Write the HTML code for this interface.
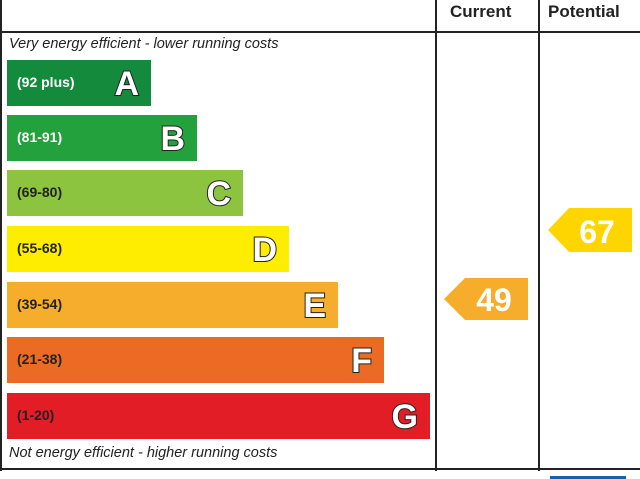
<!DOCTYPE html><html><head><style>
body{margin:0;width:640px;height:479px;overflow:hidden;background:#fff;font-family:"Liberation Sans",sans-serif;position:relative}
.a{position:absolute}
.bar{position:absolute;left:7px;height:46px}
.bar .r{position:absolute;left:10px;top:14px;font-size:14px;font-weight:bold;color:#fff}
.bar .l{position:absolute;right:12px;top:5px;font-size:34px;font-weight:bold;color:#fff;-webkit-text-stroke:2px #222;paint-order:stroke fill}
.ln{position:absolute;background:#222}
.it{position:absolute;left:9px;font-style:italic;font-size:14.5px;color:#222}
</style></head><body>
<div class="ln" style="left:0;top:0;width:2px;height:471px"></div>
<div class="ln" style="left:435px;top:0;width:2px;height:471px"></div>
<div class="ln" style="left:538px;top:0;width:2px;height:471px"></div>
<div class="ln" style="left:0;top:31px;width:640px;height:2px"></div>
<div class="ln" style="left:0;top:468px;width:640px;height:2px"></div>
<div class="a" style="left:450px;top:2px;font-size:17px;font-weight:bold;color:#222">Current</div>
<div class="a" style="left:548px;top:2px;font-size:17px;font-weight:bold;color:#222">Potential</div>
<div class="it" style="top:36px">Very energy efficient - lower running costs</div>
<div class="it" style="top:445px">Not energy efficient - higher running costs</div>
<div class="bar" style="top:60px;width:144px;background:#138a3c"><span class="r">(92 plus)</span><span class="l">A</span></div>
<div class="bar" style="top:115px;width:190px;background:#23a13c"><span class="r">(81-91)</span><span class="l">B</span></div>
<div class="bar" style="top:170px;width:236px;background:#8cc43f"><span class="r" style="color:#222">(69-80)</span><span class="l">C</span></div>
<div class="bar" style="top:226px;width:282px;background:#ffed00"><span class="r" style="color:#222">(55-68)</span><span class="l">D</span></div>
<div class="bar" style="top:282px;width:331px;background:#f7ad2c"><span class="r" style="color:#222">(39-54)</span><span class="l">E</span></div>
<div class="bar" style="top:337px;width:377px;background:#ec6b24"><span class="r" style="color:#222">(21-38)</span><span class="l">F</span></div>
<div class="bar" style="top:393px;width:423px;background:#e21d26"><span class="r" style="color:#222">(1-20)</span><span class="l">G</span></div>
<svg class="a" style="left:0;top:0" width="640" height="479">
<polygon points="444,299 465,278 528,278 528,320 465,320" fill="#f7ad2c"/>
<text x="494" y="311" font-family="Liberation Sans" font-weight="bold" font-size="32" fill="#fff" text-anchor="middle">49</text>
<polygon points="548,230 569,208 632,208 632,252 569,252" fill="#ffd500"/>
<text x="597" y="243" font-family="Liberation Sans" font-weight="bold" font-size="32" fill="#fff" text-anchor="middle">67</text>
<rect x="550" y="476" width="76" height="3" fill="#1a5fa8"/>
</svg>
</body></html>
